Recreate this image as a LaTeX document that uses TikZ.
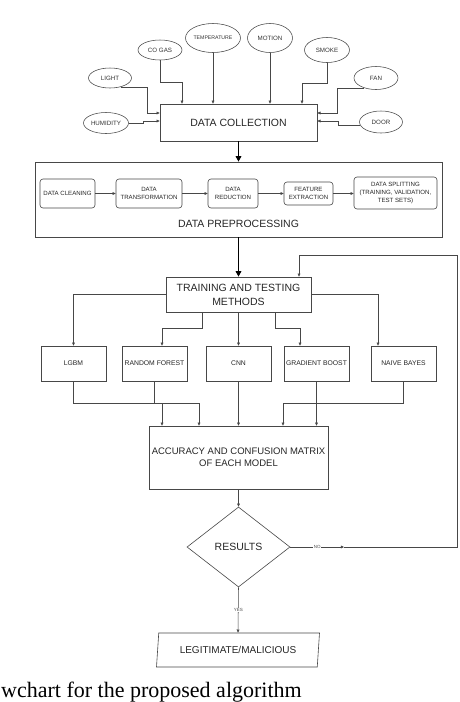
\documentclass[tikz,border=0pt]{standalone}
\usepackage{fontspec}
\setmainfont{Liberation Sans}
\newfontfamily\capfont{Liberation Serif}
\usetikzlibrary{shapes.geometric,arrows.meta,calc}
\begin{document}
\begin{tikzpicture}[x=1pt,y=-1pt,
 line/.style={draw=black!72, line width=0.55pt},
 arr/.style={line,-{Triangle[length=3.2pt,width=2.8pt]}},
 thickarr/.style={draw=black, line width=1.4pt,-{Triangle[length=5.5pt,width=5.5pt]}},
 sensor/.style={ellipse, draw=black!72, line width=0.55pt, inner sep=0pt, font=\fontsize{6.2}{7}\selectfont, text=black!80},
 box/.style={draw=black!72, line width=0.6pt, inner sep=0pt, align=center, text=black!85},
 sub/.style={box, rounded corners=3pt, font=\fontsize{6.1}{8.3}\selectfont},
 model/.style={box, minimum width=65pt, minimum height=35pt, font=\fontsize{6.8}{8}\selectfont},
 lab/.style={font=\fontsize{4.5}{5}\selectfont, fill=white, inner sep=0.6pt, text=black!70}]
\useasboundingbox (0,0) rectangle (460,702);
\fill[white] (0,0) rectangle (460,702);

% sensors
\node[sensor, minimum width=45pt, minimum height=21pt] (hum) at (106,123) {HUMIDITY};
\node[sensor, minimum width=43pt, minimum height=20pt] (light) at (110,78) {LIGHT};
\node[sensor, minimum width=44pt, minimum height=20pt] (co) at (160,50) {CO GAS};
\node[sensor, minimum width=43pt, minimum height=29pt, font=\fontsize{5.2}{6}\selectfont] (temp) at (213,38) {TEMPERATURE};
\node[sensor, minimum width=45pt, minimum height=29pt] (mot) at (270,38) {MOTION};
\node[sensor, minimum width=45pt, minimum height=25pt] (smoke) at (327,50) {SMOKE};
\node[sensor, minimum width=44pt, minimum height=23pt] (fan) at (376,78) {FAN};
\node[sensor, minimum width=43pt, minimum height=22pt] (door) at (381,122) {DOOR};

% data collection
\node[box, minimum width=157pt, minimum height=37pt, font=\fontsize{10.5}{12}\selectfont] (dc) at (238.5,122.5) {DATA COLLECTION};

% preprocessing
\node[box, minimum width=407pt, minimum height=75pt] (pre) at (238.5,199.5) {};
\node[font=\fontsize{10.5}{12}\selectfont, text=black!85, inner sep=0pt] (prelab) at (238.5,224) {DATA PREPROCESSING};
\node[sub, minimum width=55pt, minimum height=29pt] (clean) at (67.5,193.5) {DATA CLEANING};
\node[sub, minimum width=66pt, minimum height=29pt] (trans) at (149,193.5) {DATA\\TRANSFORMATION};
\node[sub, minimum width=50pt, minimum height=29pt] (red) at (233,193.5) {DATA\\REDUCTION};
\node[sub, minimum width=49pt, minimum height=23pt] (feat) at (308.5,193.5) {FEATURE\\EXTRACTION};
\node[sub, minimum width=83pt, minimum height=32pt] (split) at (395.5,193) {DATA SPLITTING\\(TRAINING, VALIDATION,\\TEST SETS)};

% training
\node[box, minimum width=145pt, minimum height=35pt, font=\fontsize{10.5}{14}\selectfont] (train) at (238.5,294.5) {TRAINING AND TESTING\\METHODS};

% models
\node[model] (lgbm) at (73.5,363.5) {LGBM};
\node[model] (rf) at (154.5,363.5) {RANDOM FOREST};
\node[model] (cnn) at (238.5,363.5) {CNN};
\node[model] (gb) at (316.5,363.5) {GRADIENT BOOST};
\node[model] (nb) at (403.5,363.5) {NAIVE BAYES};

% accuracy
\node[box, minimum width=179pt, minimum height=63pt, font=\fontsize{9.5}{12.3}\selectfont] (acc) at (238.5,457.5) {ACCURACY AND CONFUSION MATRIX\\OF EACH MODEL};

% decision
\node[diamond, draw=black!72, line width=0.6pt, minimum width=103pt, minimum height=80pt, inner sep=0pt, text=black!85, font=\fontsize{10.5}{12}\selectfont] (res) at (238.5,547) {RESULTS};

% output
\node[trapezium, trapezium left angle=73, trapezium right angle=107, trapezium stretches body, draw=black!72, line width=0.6pt, minimum height=34pt, minimum width=163pt, inner sep=0pt, text=black!85, font=\fontsize{10}{12}\selectfont] (out) at (238,650) {LEGITIMATE/MALICIOUS};

% caption
\node[anchor=base west, font=\capfont\fontsize{22}{24}\selectfont, inner sep=0pt] (cap) at (1,697) {wchart for the proposed algorithm};

% sensor connectors
\draw[arr] (hum.east) -| (143,121) -- (dc.west |- 0,121);
\draw[arr] (light.-40) -| (147,113) -- (dc.west |- 0,113);
\draw[arr] (co.south) |- (182,82) -- (dc.north -| 182,0);
\draw[arr] (temp.south) -- (dc.north -| temp.south);
\draw[arr] (mot.south) -- (dc.north -| mot.south);
\draw[arr] (smoke.south) |- (302,83) -- (dc.north -| 302,0);
\draw[arr] (fan.-140) -| (337,113) -- (dc.east |- 0,113);
\draw[arr] (door.190) -| (338,121) -- (dc.east |- 0,121);

% main flow
\draw[thickarr] (dc.south) -- (pre.north);
\draw[thickarr] (pre.south) -- (train.north);
\draw[arr] (clean.east) -- (trans.west);
\draw[arr] (trans.east) -- (red.west);
\draw[arr] (red.east) -- (feat.west);
\draw[arr] (feat.east) -- (split.west |- feat.east);

% training to models
\draw[arr] (train.west) -| (lgbm.north);
\draw[arr] (train.south -| 202,0) |- (162,328) -- (rf.north -| 162,0);
\draw[arr] (train.south) -- (cnn.north);
\draw[arr] (train.south -| 275,0) |- (300,328) -- (gb.north -| 300,0);
\draw[arr] (train.east) -| (nb.north -| 378,0);

% models to accuracy
\draw[arr] (lgbm.south) |- (199,403) -- (acc.north -| 199,0);
\draw[arr] (rf.south) |- (162,403) -- (acc.north -| 162,0);
\draw[arr] (cnn.south) -- (acc.north -| cnn.south);
\draw[arr] (gb.south) -- (acc.north -| gb.south);
\draw[arr] (nb.south) |- (283,403) -- (acc.north -| 283,0);

% decision
\draw[arr] (acc.south) -- (res.north);
\draw[arr] (res.south) -- node[lab]{YES} (out.north);
\coordinate (noarr) at (344,547);
\draw[arr] (res.east) -- node[lab]{NO} (noarr);
\draw[arr] (noarr) -- (457,547) |- (299,255) -- (train.north -| 299,0);
\end{tikzpicture}
\end{document}
